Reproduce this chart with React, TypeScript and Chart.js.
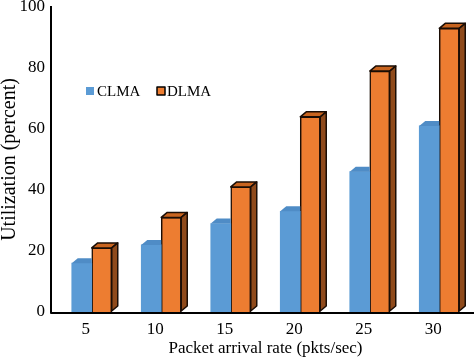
import React, { useEffect, useRef } from "react";
import { Chart, registerables } from "chart.js";

Chart.register(...registerables);

const categories = ["5", "10", "15", "20", "25", "30"];
const clmaValues = [16, 22, 29, 33, 46, 61];
const dlmaValues = [21, 31, 41, 64, 79, 93];
const seriesNames = ["CLMA", "DLMA"];
const yTicks = [0, 20, 40, 60, 80, 100];

const FONT = '"Liberation Serif", "Times New Roman", serif';
const BLUE = "#5b9bd5";
const BLUE_TOP = "#4f8cc6";
const ORANGE = "#ed7d31";
const ORANGE_TOP = "#c8641f";
const ORANGE_SIDE = "#8f4a1b";

const DX = 6;
const DY = 5;

const threeD = {
  id: "threeD",
  afterDatasetsDraw(chart: any) {
    const ctx = chart.ctx;
    const area = chart.chartArea;
    ctx.save();
    const m0 = chart.getDatasetMeta(0);
    m0.data.forEach((el: any) => {
      const p = el.getProps(["x", "y", "base", "width"], true);
      const l = p.x - p.width / 2;
      const r = p.x + p.width / 2;
      ctx.fillStyle = BLUE_TOP;
      ctx.beginPath();
      ctx.moveTo(l, p.y);
      ctx.lineTo(l + DX, p.y - DY);
      ctx.lineTo(r, p.y - DY);
      ctx.lineTo(r, p.y);
      ctx.closePath();
      ctx.fill();
    });
    const m1 = chart.getDatasetMeta(1);
    ctx.lineWidth = 1.5;
    ctx.strokeStyle = "#1a0d05";
    ctx.lineJoin = "round";
    m1.data.forEach((el: any) => {
      const p = el.getProps(["x", "y", "base", "width"], true);
      const l = p.x - p.width / 2;
      const r = p.x + p.width / 2;
      ctx.fillStyle = ORANGE_TOP;
      ctx.beginPath();
      ctx.moveTo(l, p.y);
      ctx.lineTo(l + DX, p.y - DY);
      ctx.lineTo(r + DX, p.y - DY);
      ctx.lineTo(r, p.y);
      ctx.closePath();
      ctx.fill();
      ctx.stroke();
      ctx.fillStyle = ORANGE_SIDE;
      ctx.beginPath();
      ctx.moveTo(r, p.y);
      ctx.lineTo(r + DX, p.y - DY);
      ctx.lineTo(r + DX, p.base - DY - 1);
      ctx.lineTo(r, p.base - 1);
      ctx.closePath();
      ctx.fill();
      ctx.stroke();
    });
    ctx.strokeStyle = "#000";
    ctx.lineWidth = 2;
    ctx.beginPath();
    ctx.moveTo(area.left - 6, area.top - 1);
    ctx.lineTo(area.left - 6, area.bottom + 1);
    ctx.lineTo(chart.width, area.bottom + 1);
    ctx.stroke();

    const lx = area.left + 29;
    const ly = area.top + 84;
    ctx.font = `15px ${FONT}`;
    ctx.textBaseline = "middle";
    ctx.textAlign = "left";
    ctx.fillStyle = BLUE;
    ctx.fillRect(lx, ly - 4, 8, 8);
    ctx.fillStyle = "#000";
    ctx.fillText(seriesNames[0], lx + 11, ly + 1);
    const ox = lx + 71;
    ctx.fillStyle = ORANGE;
    ctx.fillRect(ox, ly - 4, 8, 8);
    ctx.lineWidth = 1.5;
    ctx.strokeStyle = "#000";
    ctx.strokeRect(ox, ly - 4, 8, 8);
    ctx.fillStyle = "#000";
    ctx.fillText(seriesNames[1], ox + 10, ly + 1);
    ctx.restore();
  },
};

export default function App() {
  const ref = useRef<HTMLCanvasElement | null>(null);
  useEffect(() => {
    if (!ref.current) return;
    const chart = new Chart(ref.current, {
      type: "bar",
      data: {
        labels: categories,
        datasets: [
          {
            label: seriesNames[0],
            data: clmaValues,
            backgroundColor: BLUE,
            borderWidth: 0,
            barThickness: 20,
          },
          {
            label: seriesNames[1],
            data: dlmaValues,
            backgroundColor: ORANGE,
            borderColor: "#1a0d05",
            borderWidth: 1.5,
            barThickness: 20,
          },
        ],
      },
      options: {
        animation: false,
        responsive: true,
        maintainAspectRatio: false,
        layout: { padding: { top: 0, right: 0, left: 0, bottom: 0 } },
        plugins: {
          legend: { display: false },
          tooltip: { enabled: false },
        },
        scales: {
          x: {
            grid: { display: false, drawTicks: false },
            border: { display: false },
            afterFit: (s: any) => {
              s.height = 49;
              s.paddingLeft = 0;
              s.paddingRight = 0;
            },
            ticks: {
              color: "#000",
              font: { family: FONT, size: 17 },
              padding: 7,
              labelOffset: -6,
            },
            title: {
              display: true,
              text: "Packet arrival rate (pkts/sec)",
              color: "#000",
              font: { family: FONT, size: 17 },
              padding: { top: 2, bottom: 2 },
            },
          },
          y: {
            min: 0,
            max: 100,
            afterFit: (s: any) => {
              s.width = 57;
              s.paddingTop = 7;
              s.paddingBottom = 0;
            },
            afterBuildTicks: (s: any) => {
              s.ticks = yTicks.map((v) => ({ value: v }));
            },
            grid: { display: false, drawTicks: false },
            border: { display: false },
            ticks: {
              color: "#000",
              font: { family: FONT, size: 17 },
              padding: 12,
            },
            title: {
              display: true,
              text: "Utilization (percent)",
              color: "#000",
              font: { family: FONT, size: 20, lineHeight: 1 },
              padding: { top: 0, bottom: 0 },
            },
          },
        },
      },
      plugins: [threeD],
    });
    return () => chart.destroy();
  }, []);
  return (
    <div
      style={{
        position: "fixed",
        left: 0,
        top: 0,
        width: 474,
        height: 361,
        background: "#fff",
      }}
    >
      <canvas ref={ref} />
    </div>
  );
}
